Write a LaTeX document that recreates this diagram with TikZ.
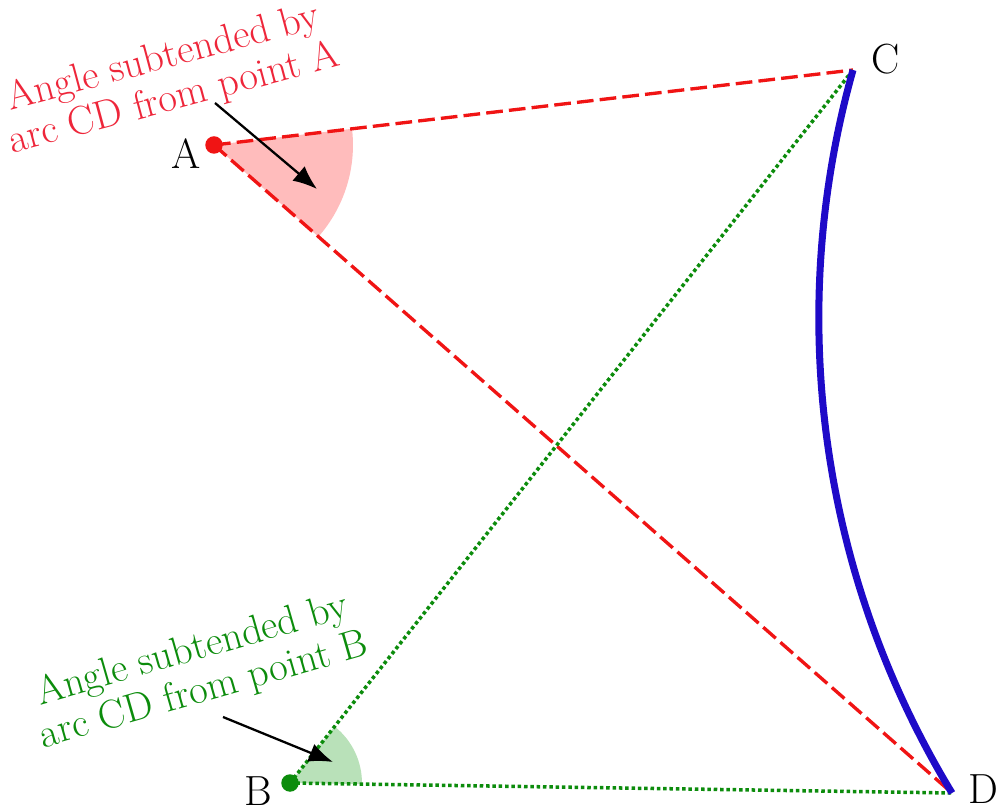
\documentclass[tikz,border=0pt]{standalone}
\usepackage{tikz}
\usetikzlibrary{arrows.meta, positioning, angles}

\definecolor{lineRed}{RGB}{240,20,20}
\definecolor{textRed}{RGB}{238,38,58}
\definecolor{lineGreen}{RGB}{12,140,12}
\definecolor{arcBlue}{RGB}{30,10,200}
\definecolor{fillRed}{RGB}{255,188,188}
\definecolor{fillGreen}{RGB}{185,225,185}

\begin{document}
\begin{tikzpicture}[x=0.02cm, y=0.02cm,
  redline/.style={lineRed, line width=1.9pt, dash pattern=on 9.5pt off 3.5pt},
  greenline/.style={lineGreen, line width=2pt, dash pattern=on 2pt off 1.6pt},
  arcline/.style={arcBlue, line width=4pt},
  dotnode/.style={circle, inner sep=0pt, minimum size=0.35cm},
  ptlabel/.style={font=\fontsize{24}{26}\selectfont},
  note/.style={align=center, font=\fontsize{23}{24}\selectfont},
  pointer/.style={-{Latex[length=4.8mm, width=3.8mm]}, line width=1.3pt}]
\useasboundingbox (0,0) rectangle (1000,808);

\coordinate (A) at (214,663);
\coordinate (B) at (290,25);
\coordinate (C) at (853,738);
\coordinate (D) at (952,15);

% shaded angles
\pic[fill=fillRed, angle radius=2.78cm] {angle=D--A--C};
\pic[fill=fillGreen, angle radius=1.44cm] {angle=D--B--C};

% sight lines
\draw[redline] (A) -- (C);
\draw[redline] (A) -- (D);
\draw[greenline] (B) -- (C);
\draw[greenline] (B) -- (D);

% arc CD
\draw[arcline] (C) to[bend right=23.5, looseness=0.89] (D);

\node[dotnode, fill=lineRed] (dotA) at (A) {};
\node[dotnode, fill=lineGreen] (dotB) at (B) {};

\node[ptlabel] (labA) at (186,654) {A};
\node[ptlabel] (labB) at (258,17) {B};
\node[ptlabel] (labC) at (886,749) {C};
\node[ptlabel] (labD) at (983,19) {D};

\node[note, textRed, rotate=15] (noteA) at (169,729) {Angle subtended by\\arc CD from point A};
\node[note, lineGreen, rotate=16] (noteB) at (198,137) {Angle subtended by\\arc CD from point B};

\coordinate (fromA) at (215,705);
\coordinate (tipA) at (317,619);
\coordinate (fromB) at (223,91);
\coordinate (tipB) at (333,46);
\draw[pointer] (fromA) -- (tipA);
\draw[pointer] (fromB) -- (tipB);
\end{tikzpicture}
\end{document}
